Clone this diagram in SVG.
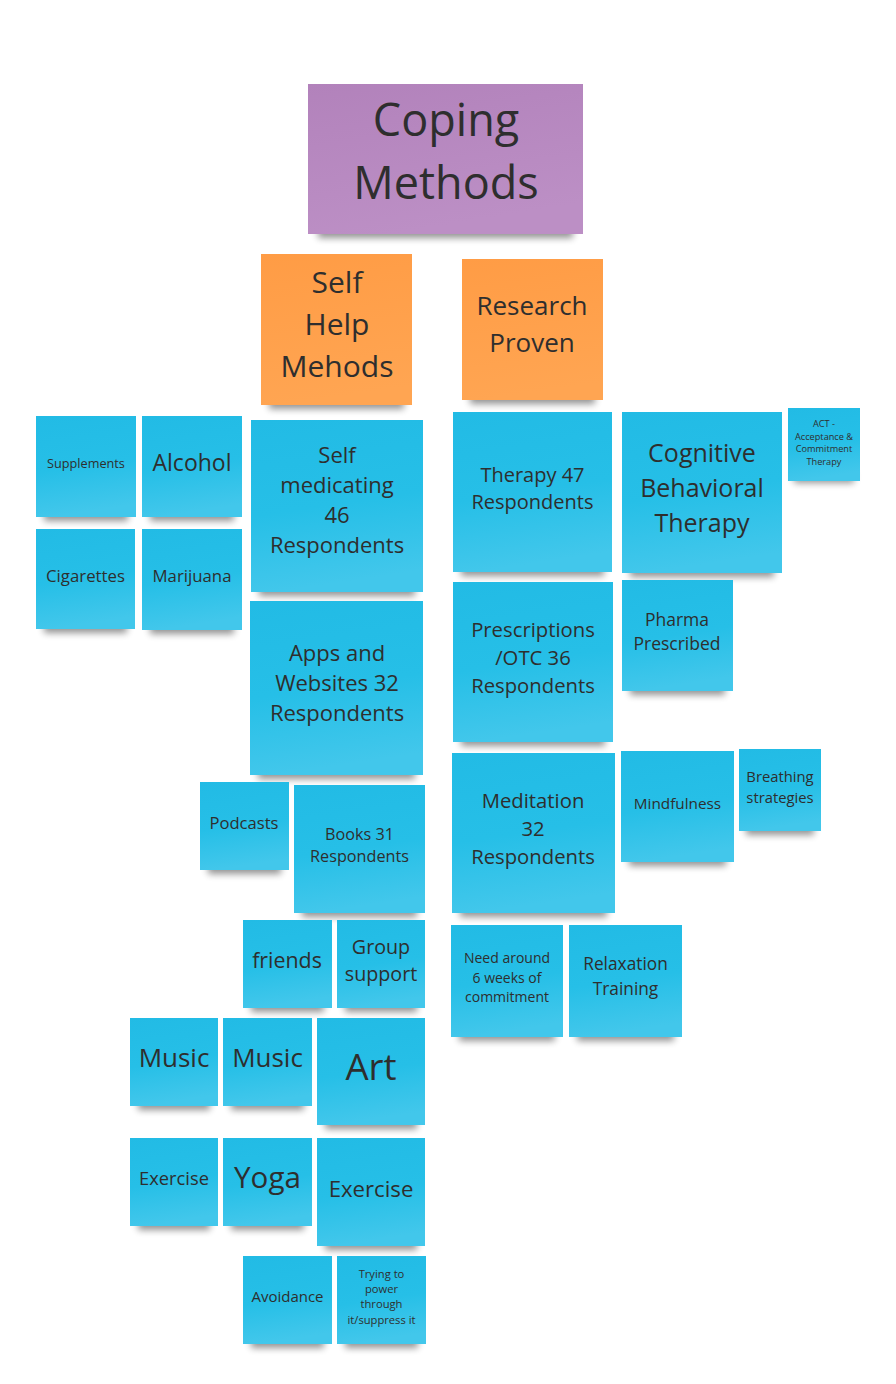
<svg xmlns="http://www.w3.org/2000/svg" width="896" height="1384" viewBox="0 0 896 1384">
<defs>
<linearGradient id="gb" x1="0" y1="0" x2="0.15" y2="1">
<stop offset="0" stop-color="#22BBE5"/><stop offset="0.55" stop-color="#26BFE7"/><stop offset="1" stop-color="#42C7EB"/>
</linearGradient>
<linearGradient id="go" x1="0" y1="0" x2="0.15" y2="1">
<stop offset="0" stop-color="#FF9C45"/><stop offset="1" stop-color="#FFA552"/>
</linearGradient>
<linearGradient id="gp" x1="0" y1="0" x2="0.3" y2="1">
<stop offset="0" stop-color="#B282BB"/><stop offset="1" stop-color="#BC8FC5"/>
</linearGradient>
<filter id="blur" x="-20%" y="-100%" width="140%" height="300%"><feGaussianBlur stdDeviation="3.5"/></filter>
</defs>
<style>
.sh{fill:#000;opacity:.42;filter:url(#blur)}
.b{fill:url(#gb)}
.o{fill:url(#go)}
.p{fill:url(#gp)}
text{font-family:"Open Sans","Noto Sans","Liberation Sans",sans-serif;fill:#2e2e2e;text-anchor:middle}
</style>
<rect width="896" height="1384" fill="#fff"/>
<g id="connectors"/>

<g id="coping"><rect class="sh" x="318" y="224" width="255" height="14"/><rect class="p" x="308" y="84" width="275" height="150"/>
<text font-size="45"><tspan x="446" y="136">Coping</tspan><tspan x="446" y="199">Methods</tspan></text></g>

<g id="selfhelp"><rect class="sh" x="269" y="395" width="135" height="14"/><rect class="o" x="261" y="254" width="151" height="151"/>
<text font-size="30"><tspan x="337" y="293">Self</tspan><tspan x="337" y="335">Help</tspan><tspan x="337" y="377">Mehods</tspan></text></g>

<g id="research"><rect class="sh" x="470" y="390" width="125" height="14"/><rect class="o" x="462" y="259" width="141" height="141"/>
<text font-size="26"><tspan x="532" y="315">Research</tspan><tspan x="532" y="352">Proven</tspan></text></g>

<g id="supplements"><rect class="sh" x="44" y="507" width="84" height="14"/><rect class="b" x="36" y="416" width="100" height="101"/>
<text font-size="12.7" x="86" y="468">Supplements</text></g>

<g id="alcohol"><rect class="sh" x="150" y="507" width="84" height="14"/><rect class="b" x="142" y="416" width="100" height="101"/>
<text font-size="23" x="192" y="471">Alcohol</text></g>

<g id="cigarettes"><rect class="sh" x="44" y="619" width="83" height="14"/><rect class="b" x="36" y="529" width="99" height="100"/>
<text font-size="16.8" x="85.5" y="582">Cigarettes</text></g>

<g id="marijuana"><rect class="sh" x="150" y="620" width="84" height="14"/><rect class="b" x="142" y="529" width="100" height="101"/>
<text font-size="16.8" x="192" y="582">Marijuana</text></g>

<g id="selfmed"><rect class="sh" x="259" y="582" width="156" height="14"/><rect class="b" x="251" y="420" width="172" height="172"/>
<text font-size="22"><tspan x="337" y="463">Self</tspan><tspan x="337" y="493">medicating</tspan><tspan x="337" y="523">46</tspan><tspan x="337" y="553">Respondents</tspan></text></g>

<g id="apps"><rect class="sh" x="258" y="765" width="157" height="14"/><rect class="b" x="250" y="601" width="173" height="174"/>
<text font-size="22"><tspan x="337" y="661">Apps and</tspan><tspan x="337" y="691">Websites 32</tspan><tspan x="337" y="721">Respondents</tspan></text></g>

<g id="podcasts"><rect class="sh" x="208" y="860" width="73" height="14"/><rect class="b" x="200" y="782" width="89" height="88"/>
<text font-size="16.6" x="244" y="829">Podcasts</text></g>

<g id="books"><rect class="sh" x="302" y="903" width="115" height="14"/><rect class="b" x="294" y="785" width="131" height="128"/>
<text font-size="16.2"><tspan x="359.5" y="840">Books 31</tspan><tspan x="359.5" y="862">Respondents</tspan></text></g>

<g id="friends"><rect class="sh" x="251" y="998" width="73" height="14"/><rect class="b" x="243" y="920" width="89" height="88"/>
<text font-size="21.4" x="287" y="968">friends</text></g>

<g id="group"><rect class="sh" x="345" y="998" width="72" height="14"/><rect class="b" x="337" y="920" width="88" height="88"/>
<text font-size="19.7"><tspan x="381" y="954">Group</tspan><tspan x="381" y="981">support</tspan></text></g>

<g id="music1"><rect class="sh" x="138" y="1096" width="72" height="14"/><rect class="b" x="130" y="1018" width="88" height="88"/>
<text font-size="26" x="174" y="1067">Music</text></g>

<g id="music2"><rect class="sh" x="231" y="1096" width="73" height="14"/><rect class="b" x="223" y="1018" width="89" height="88"/>
<text font-size="26" x="267.5" y="1067">Music</text></g>

<g id="art"><rect class="sh" x="325" y="1115" width="92" height="14"/><rect class="b" x="317" y="1018" width="108" height="107"/>
<text font-size="36.6" x="371" y="1080">Art</text></g>

<g id="exercise1"><rect class="sh" x="138" y="1216" width="72" height="14"/><rect class="b" x="130" y="1138" width="88" height="88"/>
<text font-size="18.3" x="174" y="1185">Exercise</text></g>

<g id="yoga"><rect class="sh" x="231" y="1216" width="73" height="14"/><rect class="b" x="223" y="1138" width="89" height="88"/>
<text font-size="29.6" x="267.5" y="1188">Yoga</text></g>

<g id="exercise2"><rect class="sh" x="325" y="1236" width="92" height="14"/><rect class="b" x="317" y="1138" width="108" height="108"/>
<text font-size="22.2" x="371" y="1197">Exercise</text></g>

<g id="avoidance"><rect class="sh" x="251" y="1334" width="73" height="14"/><rect class="b" x="243" y="1256" width="89" height="88"/>
<text font-size="15" x="287.5" y="1302">Avoidance</text></g>

<g id="trying"><rect class="sh" x="345" y="1334" width="73" height="14"/><rect class="b" x="337" y="1256" width="89" height="88"/>
<text font-size="11.2"><tspan x="381.5" y="1278">Trying to</tspan><tspan x="381.5" y="1293">power</tspan><tspan x="381.5" y="1308">through</tspan><tspan x="381.5" y="1324">it/suppress it</tspan></text></g>

<g id="therapy"><rect class="sh" x="461" y="562" width="143" height="14"/><rect class="b" x="453" y="412" width="159" height="160"/>
<text font-size="20"><tspan x="532.5" y="482">Therapy 47</tspan><tspan x="532.5" y="509">Respondents</tspan></text></g>

<g id="cbt"><rect class="sh" x="630" y="563" width="144" height="14"/><rect class="b" x="622" y="412" width="160" height="161"/>
<text font-size="25"><tspan x="702" y="462">Cognitive</tspan><tspan x="702" y="497">Behavioral</tspan><tspan x="702" y="532">Therapy</tspan></text></g>

<g id="act"><rect class="sh" x="794" y="471" width="60" height="12"/><rect class="b" x="788" y="408" width="72" height="73"/>
<text font-size="9.2"><tspan x="824" y="427">ACT -</tspan><tspan x="824" y="440">Acceptance &amp;</tspan><tspan x="824" y="452">Commitment</tspan><tspan x="824" y="465">Therapy</tspan></text></g>

<g id="prescriptions"><rect class="sh" x="461" y="732" width="144" height="14"/><rect class="b" x="453" y="582" width="160" height="160"/>
<text font-size="20.3"><tspan x="533" y="637">Prescriptions</tspan><tspan x="533" y="665">/OTC 36</tspan><tspan x="533" y="693">Respondents</tspan></text></g>

<g id="pharma"><rect class="sh" x="630" y="681" width="95" height="14"/><rect class="b" x="622" y="580" width="111" height="111"/>
<text font-size="17.5"><tspan x="677" y="626">Pharma</tspan><tspan x="677" y="650">Prescribed</tspan></text></g>

<g id="meditation"><rect class="sh" x="460" y="903" width="147" height="14"/><rect class="b" x="452" y="753" width="163" height="160"/>
<text font-size="20.3"><tspan x="533" y="808">Meditation</tspan><tspan x="533" y="836">32</tspan><tspan x="533" y="864">Respondents</tspan></text></g>

<g id="mindfulness"><rect class="sh" x="629" y="852" width="97" height="14"/><rect class="b" x="621" y="751" width="113" height="111"/>
<text font-size="15.3" x="677.5" y="809">Mindfulness</text></g>

<g id="breathing"><rect class="sh" x="746" y="821" width="68" height="14"/><rect class="b" x="739" y="749" width="82" height="82"/>
<text font-size="14.8"><tspan x="780" y="782">Breathing</tspan><tspan x="780" y="803">strategies</tspan></text></g>

<g id="need"><rect class="sh" x="459" y="1027" width="96" height="14"/><rect class="b" x="451" y="925" width="112" height="112"/>
<text font-size="14"><tspan x="507" y="963">Need around</tspan><tspan x="507" y="983">6 weeks of</tspan><tspan x="507" y="1002">commitment</tspan></text></g>

<g id="relaxation"><rect class="sh" x="577" y="1027" width="97" height="14"/><rect class="b" x="569" y="925" width="113" height="112"/>
<text font-size="17.3"><tspan x="625.5" y="970">Relaxation</tspan><tspan x="625.5" y="995">Training</tspan></text></g>
</svg>
